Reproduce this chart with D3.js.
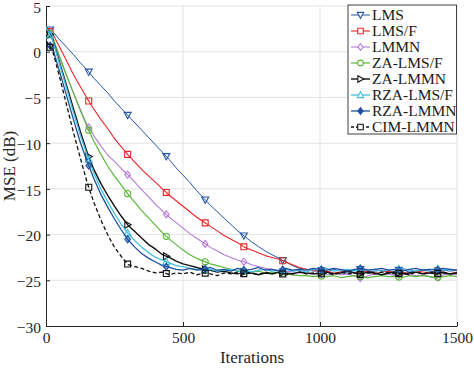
<!DOCTYPE html>
<html>
<head>
<meta charset="utf-8">
<script src="https://cdn.jsdelivr.net/npm/d3@7"></script>
<style>
  body { margin: 0; background: #fff; }
  svg { display: block; font-family: "Liberation Serif", "Times New Roman", serif; }
</style>
</head>
<body>
<svg width="474" height="386"></svg>
<script>
// iterations shared by all curves (every 25)
const iterations = d3.range(0, 1501, 25);
// marker positions along the curves
const markerIters = [15, 156, 298, 439, 581, 722, 864, 1005, 1147, 1288, 1430];

const names = ["LMS", "LMS/F", "LMMN", "ZA-LMS/F", "ZA-LMMN", "RZA-LMS/F", "RZA-LMMN", "CIM-LMMN"];

const lms = [2.7, 2.2, 1.3, 0.5, -0.3, -1.2, -2.0, -2.9, -3.7, -4.5, -5.4, -6.2, -7.0, -7.8, -8.6, -9.4, -10.2, -11.0, -11.8, -12.7,
  -13.5, -14.3, -15.2, -16.0, -16.8, -17.5, -18.2, -18.9, -19.6, -20.2, -20.8, -21.3, -21.8, -22.2, -22.6, -23.0, -23.4, -23.7, -23.8, -24.0,
  -23.9, -24.1, -23.8, -24.0, -24.2, -23.9, -23.8, -24.1, -24.0, -23.9, -24.2, -24.0, -23.8, -24.1, -24.0, -23.9, -24.0, -24.2, -23.9, -24.0, -23.9];
const lmsF = [2.7, 1.9, 0.5, -1.0, -2.5, -3.8, -5.1, -6.3, -7.4, -8.4, -9.5, -10.4, -11.3, -12.1, -12.9, -13.6, -14.3, -15.0, -15.7, -16.3,
  -16.9, -17.5, -18.1, -18.6, -19.1, -19.6, -20.1, -20.5, -20.9, -21.4, -21.7, -22.0, -22.3, -22.5, -22.7, -23.0, -23.3, -23.6, -23.8, -23.9,
  -24.1, -24.0, -24.2, -24.1, -23.9, -24.2, -24.1, -24.0, -24.3, -24.1, -24.0, -24.2, -24.1, -24.3, -24.0, -24.1, -24.2, -24.0, -24.1, -24.3, -24.1];
const lmmn = [2.7, 1.5, -0.6, -2.6, -4.5, -6.3, -8.0, -9.2, -10.3, -11.3, -12.0, -12.8, -13.5, -14.3, -15.1, -15.9, -16.7, -17.4, -18.1, -18.7,
  -19.3, -19.9, -20.4, -20.9, -21.4, -21.8, -22.2, -22.5, -22.8, -23.0, -23.3, -23.5, -23.7, -23.8, -23.9, -24.0, -24.1, -24.2, -24.2, -24.3,
  -24.3, -24.4, -24.2, -24.4, -24.3, -24.5, -24.8, -24.5, -24.3, -24.4, -24.3, -24.5, -24.4, -24.3, -24.5, -24.4, -24.6, -24.8, -24.4, -24.3, -24.4];
const zaLmsF = [2.7, 1.5, -0.6, -2.6, -4.5, -6.4, -8.2, -9.8, -11.2, -12.5, -13.6, -14.6, -15.6, -16.5, -17.4, -18.2, -19.0, -19.8, -20.5, -21.1,
  -21.7, -22.2, -22.6, -22.9, -23.2, -23.4, -23.6, -23.8, -24.0, -24.0, -24.1, -24.0, -24.2, -24.1, -24.2, -24.3, -24.4, -24.5, -24.5, -24.6,
  -24.5, -24.6, -24.5, -24.7, -24.6, -24.5, -24.6, -24.7, -24.6, -24.5, -24.6, -24.6, -24.7, -24.5, -24.6, -24.5, -24.6, -24.7, -24.6, -24.5, -24.6];
const zaLmmn = [2.7, 1.3, -1.2, -3.7, -6.2, -8.7, -11.0, -12.9, -14.4, -15.7, -16.9, -18.0, -19.0, -19.7, -20.4, -21.1, -21.6, -22.2, -22.5, -22.9,
  -23.2, -23.4, -23.6, -23.8, -23.9, -24.1, -24.0, -24.2, -24.3, -24.1, -24.2, -24.4, -24.2, -24.3, -24.1, -24.2, -24.3, -24.1, -24.2, -24.3,
  -24.2, -24.1, -24.3, -24.2, -24.0, -24.2, -24.3, -24.1, -24.2, -24.4, -24.2, -24.1, -24.3, -24.2, -24.1, -24.3, -24.2, -24.0, -24.2, -24.3, -24.2];
const rzaLmsF = [2.7, 1.2, -1.4, -4.0, -6.6, -9.1, -11.3, -13.3, -15.0, -16.4, -17.7, -18.9, -19.9, -20.7, -21.4, -22.0, -22.5, -22.8, -23.1, -23.4,
  -23.5, -23.7, -23.8, -23.9, -23.8, -24.0, -23.9, -23.8, -24.0, -23.9, -24.1, -23.9, -23.8, -24.0, -23.9, -23.8, -24.0, -23.9, -24.1, -23.8,
  -23.9, -23.7, -24.0, -23.9, -23.8, -24.0, -23.7, -23.9, -23.8, -24.0, -23.9, -23.8, -23.7, -23.9, -24.0, -23.8, -23.9, -23.7, -23.9, -23.8, -23.9];
const rzaLmmn = [1.2, 0.3, -2.2, -4.8, -7.4, -9.9, -12.0, -13.9, -15.6, -17.0, -18.3, -19.5, -20.6, -21.4, -22.1, -22.6, -23.0, -23.4, -23.6, -23.8,
  -23.9, -23.7, -23.9, -23.8, -23.6, -23.9, -23.8, -24.0, -23.7, -23.9, -23.8, -23.6, -23.9, -23.8, -24.0, -23.7, -23.9, -23.8, -23.9, -23.7,
  -23.8, -23.9, -23.7, -23.8, -24.0, -23.8, -23.7, -23.9, -23.8, -23.7, -23.9, -23.8, -24.0, -23.8, -23.7, -23.9, -23.8, -23.9, -23.7, -23.8, -23.9];
const cimLmmn = [1.2, 0.0, -2.8, -5.8, -8.8, -11.6, -14.3, -16.5, -18.4, -20.0, -21.4, -22.4, -23.3, -23.5, -23.7, -24.0, -24.2, -24.1, -24.4, -24.2,
  -24.3, -24.1, -24.4, -24.2, -24.3, -24.5, -24.2, -24.3, -24.1, -24.3, -24.2, -24.4, -24.1, -24.3, -24.2, -24.4, -24.3, -24.1, -24.3, -24.2,
  -24.3, -24.2, -24.4, -24.1, -24.3, -24.2, -24.4, -24.2, -24.3, -24.1, -24.2, -24.3, -24.2, -24.4, -24.1, -24.3, -24.2, -24.3, -24.1, -24.3, -24.2];

const xTicks = [0, 500, 1000, 1500];
const yTicks = [-30, -25, -20, -15, -10, -5, 0, 5];

const seriesValues = [lms, lmsF, lmmn, zaLmsF, zaLmmn, rzaLmsF, rzaLmmn, cimLmmn];
const styles = [
  { color: "#2356a8", marker: "triDown", width: 1, dash: null },
  { color: "#e8262a", marker: "square", width: 1.1, dash: null },
  { color: "#b57ad8", marker: "diamond", width: 1.1, dash: null },
  { color: "#5cb83a", marker: "circle", width: 1.2, dash: null },
  { color: "#111111", marker: "triRight", width: 1.4, dash: null },
  { color: "#45bfe0", marker: "triUp", width: 1.3, dash: null },
  { color: "#1d4f9e", marker: "diamondF", width: 1.3, dash: null },
  { color: "#111111", marker: "square", width: 1.3, dash: "4,2.5" }
];

const svg = d3.select("svg");
const pLeft = 46, pRight = 457, pTop = 6, pBottom = 326;
const serif = "'Liberation Serif', 'Times New Roman', serif";

const x = d3.scaleLinear().domain([0, 1500]).range([pLeft, pRight]);
const y = d3.scaleLinear().domain([-30, 5]).range([pBottom, pTop]);

// grid
svg.append("g").selectAll("line").data(xTicks.slice(1)).enter().append("line")
  .attr("x1", d => x(d)).attr("x2", d => x(d)).attr("y1", pTop).attr("y2", pBottom)
  .attr("stroke", "#e3e3e3").attr("stroke-width", 1);
svg.append("g").selectAll("line").data(yTicks.slice(1)).enter().append("line")
  .attr("x1", pLeft).attr("x2", pRight).attr("y1", d => y(d)).attr("y2", d => y(d))
  .attr("stroke", "#e3e3e3").attr("stroke-width", 1);

// axes (ticks pointing inward like matlab)
const xAxis = svg.append("g").attr("transform", `translate(0,${pBottom})`)
  .call(d3.axisBottom(x).tickValues(xTicks).tickFormat(d3.format("d"))
    .tickSizeInner(-4).tickSizeOuter(0).tickPadding(8));
const yAxis = svg.append("g").attr("transform", `translate(${pLeft},0)`)
  .call(d3.axisLeft(y).tickValues(yTicks).tickFormat(d3.format("d"))
    .tickSizeInner(-4).tickSizeOuter(0).tickPadding(5));
[xAxis, yAxis].forEach(a => {
  a.attr("font-family", serif).attr("font-size", 15.5);
  a.select(".domain").attr("stroke", "#262626").attr("stroke-width", 1);
  a.selectAll(".tick line").attr("stroke", "#262626");
  a.selectAll(".tick text").attr("fill", "#262626");
});
xAxis.selectAll(".tick text").attr("dy", "0.6em");
yAxis.selectAll(".tick text").attr("dy", "0.4em");

// axis titles
svg.append("text").attr("x", 252).attr("y", 363).attr("text-anchor", "middle")
  .attr("font-family", serif).attr("font-size", 17).attr("fill", "#262626").text("Iterations");
svg.append("text").attr("transform", `translate(15,${(pTop + pBottom) / 2}) rotate(-90)`)
  .attr("text-anchor", "middle").attr("font-family", serif).attr("font-size", 17)
  .attr("fill", "#262626").text("MSE (dB)");

function markerPath(type, s) {
  const h = s / 2;
  switch (type) {
    case "triDown": return `M${-h},${-h * 0.8}L${h},${-h * 0.8}L0,${h}Z`;
    case "triUp": return `M${-h},${h * 0.8}L${h},${h * 0.8}L0,${-h}Z`;
    case "triRight": return `M${-h * 0.8},${-h}L${-h * 0.8},${h}L${h},0Z`;
    case "square": return `M${-h * 0.85},${-h * 0.85}h${s * 0.85}v${s * 0.85}h${-s * 0.85}Z`;
    case "diamond":
    case "diamondF": return `M0,${-h}L${h * 0.8},0L0,${h}L${-h * 0.8},0Z`;
    case "circle": return d3.symbol(d3.symbolCircle, s * s * 0.6)();
  }
}

const line = d3.line().x(d => x(d[0])).y(d => y(d[1]));
svg.append("clipPath").attr("id", "plot").append("rect")
  .attr("x", pLeft).attr("y", pTop - 4).attr("width", pRight - pLeft).attr("height", pBottom - pTop + 4);

const plot = svg.append("g").attr("clip-path", "url(#plot)");

seriesValues.forEach((vals, i) => {
  const st = styles[i];
  const pts = iterations.map((it, j) => [it, vals[j]]);
  plot.append("path").datum(pts).attr("d", line)
    .attr("fill", "none").attr("stroke", st.color).attr("stroke-width", st.width)
    .attr("stroke-dasharray", st.dash).attr("stroke-linejoin", "round");
  // piecewise scale to sit markers on the curve
  const along = d3.scaleLinear().domain(iterations).range(vals);
  plot.append("g").selectAll("path").data(markerIters).enter().append("path")
    .attr("transform", d => `translate(${x(d)},${y(along(d))})`)
    .attr("d", markerPath(st.marker, 7))
    .attr("fill", st.marker === "diamondF" ? st.color : "none")
    .attr("fill-opacity", st.marker === "diamondF" ? 0.5 : 1)
    .attr("stroke", st.color).attr("stroke-width", 1.1);
});

// legend
const lg = svg.append("g");
lg.append("rect").attr("x", 348).attr("y", 5).attr("width", 108.5).attr("height", 129)
  .attr("fill", "#fff").attr("stroke", "#404040").attr("stroke-width", 1);
names.forEach((n, i) => {
  const st = styles[i];
  const cy = 15 + i * 16;
  lg.append("line").attr("x1", 351).attr("x2", 370).attr("y1", cy).attr("y2", cy)
    .attr("stroke", st.color).attr("stroke-width", st.width)
    .attr("stroke-dasharray", st.dash ? "3,2" : null);
  lg.append("path").attr("transform", `translate(360.5,${cy})`)
    .attr("d", markerPath(st.marker, 6.5))
    .attr("fill", st.marker === "diamondF" ? st.color : "#fff")
    .attr("stroke", st.color).attr("stroke-width", 1.1);
  lg.append("text").attr("x", 372).attr("y", cy + 5).attr("font-family", serif)
    .attr("font-size", 15.5).attr("fill", "#1a1a1a").text(n);
});
</script>
</body>
</html>
